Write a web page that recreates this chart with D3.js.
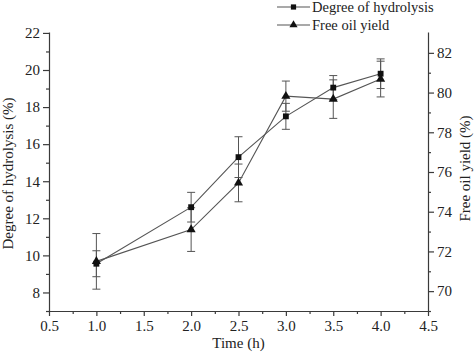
<!DOCTYPE html>
<html><head><meta charset="utf-8">
<script src="https://cdn.jsdelivr.net/npm/d3@7"></script>
<style>body{margin:0;background:#fff}svg{display:block}text{font-family:"Liberation Serif","Times New Roman",serif;fill:#222}</style>
</head><body>
<svg id="c" width="474" height="353"></svg>
<script>
const times = [1.0, 2.0, 2.5, 3.0, 3.5, 4.0];
const hydrolysis = [9.55, 12.6, 15.3, 17.5, 19.05, 19.8];
const hydrolysisErr = [0.7, 0.8, 1.1, 0.7, 0.65, 0.8];
const oilYield = [71.5, 73.1, 75.45, 79.82, 79.67, 80.68];
const oilYieldErr = [1.4, 1.1, 0.95, 0.76, 0.97, 0.9];
const xTicks = [0.5, 1.0, 1.5, 2.0, 2.5, 3.0, 3.5, 4.0, 4.5];
const leftTicks = [8, 10, 12, 14, 16, 18, 20, 22];
const rightTicks = [70, 72, 74, 76, 78, 80, 82];
const seriesNames = ["Degree of hydrolysis", "Free oil yield"];

const svg = d3.select("#c");
const L = 49, R = 428, T = 32, B = 311;
const x = d3.scaleLinear().domain([0.5, 4.5]).range([L, R]);
const yL = d3.scaleLinear().domain([7, 22.05]).range([B, T]);
const yR = d3.scaleLinear().domain([69, 83.05]).range([B, T]);
const axisColor = "#3a3a3a";

function styleAxis(g){
  g.selectAll("path,line").attr("stroke", axisColor).attr("stroke-width", 1.2);
  g.selectAll("text").style("font-size", "15px").attr("fill", "#222");
}
// minor ticks
svg.append("g").attr("transform", `translate(0,${B})`)
  .call(d3.axisBottom(x).tickValues(d3.range(0.75, 4.5, 0.5)).tickSize(3).tickFormat(""))
  .call(g => { g.select(".domain").remove(); styleAxis(g); });
svg.append("g").attr("transform", `translate(${L},0)`)
  .call(d3.axisLeft(yL).tickValues(d3.range(7, 22, 2)).tickSize(3).tickFormat(""))
  .call(g => { g.select(".domain").remove(); styleAxis(g); });
svg.append("g").attr("transform", `translate(${R},0)`)
  .call(d3.axisRight(yR).tickValues(d3.range(69, 83, 2)).tickSize(3).tickFormat(""))
  .call(g => { g.select(".domain").remove(); styleAxis(g); });

svg.append("g").attr("transform", `translate(0,${B})`)
  .call(d3.axisBottom(x).tickValues(xTicks).tickSize(5).tickSizeOuter(0).tickPadding(4).tickFormat(d3.format(".1f")))
  .call(styleAxis);
svg.append("g").attr("transform", `translate(${L},0)`)
  .call(d3.axisLeft(yL).tickValues(leftTicks).tickSize(6).tickSizeOuter(0).tickPadding(3))
  .call(styleAxis);
svg.append("g").attr("transform", `translate(${R},0)`)
  .call(d3.axisRight(yR).tickValues(rightTicks).tickSize(6).tickSizeOuter(0).tickPadding(3))
  .call(styleAxis);

// axis titles
svg.append("text").attr("x", (L + R) / 2).attr("y", 348).attr("text-anchor", "middle")
  .style("font-size", "15px").text("Time (h)");
svg.append("text").attr("transform", `translate(13,${(T + B) / 2 + 2}) rotate(-90)`).attr("text-anchor", "middle")
  .style("font-size", "15px").text("Degree of hydrolysis (%)");
svg.append("text").attr("transform", `translate(470,${(T + B) / 2 - 3}) rotate(-90)`).attr("text-anchor", "middle")
  .style("font-size", "15px").text("Free oil yield (%)");

const lineColor = "#555";
const series = [
  {vals: hydrolysis, err: hydrolysisErr, y: yL, sym: d3.symbolSquare, size: 34},
  {vals: oilYield, err: oilYieldErr, y: yR, sym: d3.symbolTriangle, size: 36}
];
series.forEach(s => {
  const pts = times.map((t, i) => ({t, v: s.vals[i], e: s.err[i]}));
  const eg = svg.append("g").attr("stroke", lineColor).attr("stroke-width", 1);
  pts.forEach(p => {
    eg.append("line").attr("x1", x(p.t)).attr("x2", x(p.t)).attr("y1", s.y(p.v - p.e)).attr("y2", s.y(p.v + p.e));
    [p.v - p.e, p.v + p.e].forEach(v => eg.append("line").attr("x1", x(p.t) - 4).attr("x2", x(p.t) + 4).attr("y1", s.y(v)).attr("y2", s.y(v)));
  });
  svg.append("path").datum(pts).attr("fill", "none").attr("stroke", lineColor).attr("stroke-width", 1.1)
    .attr("d", d3.line().x(p => x(p.t)).y(p => s.y(p.v)));
});
series.forEach(s => {
  svg.append("g").selectAll("path").data(times.map((t, i) => ({t, v: s.vals[i]}))).join("path")
    .attr("transform", p => `translate(${x(p.t)},${s.y(p.v)})`)
    .attr("d", d3.symbol().type(s.sym).size(s.size)).attr("fill", "#111");
});

// legend
const lg = svg.append("g");
series.forEach((s, i) => {
  const yy = 7 + i * 18;
  lg.append("line").attr("x1", 277).attr("x2", 310).attr("y1", yy).attr("y2", yy).attr("stroke", lineColor).attr("stroke-width", 1.1);
  lg.append("path").attr("transform", `translate(293.5,${yy})`).attr("d", d3.symbol().type(s.sym).size(s.size * 0.8)).attr("fill", "#111");
  lg.append("text").attr("x", 312).attr("y", yy + 5).style("font-size", "14.5px").text(seriesNames[i]);
});
</script>
</body></html>
